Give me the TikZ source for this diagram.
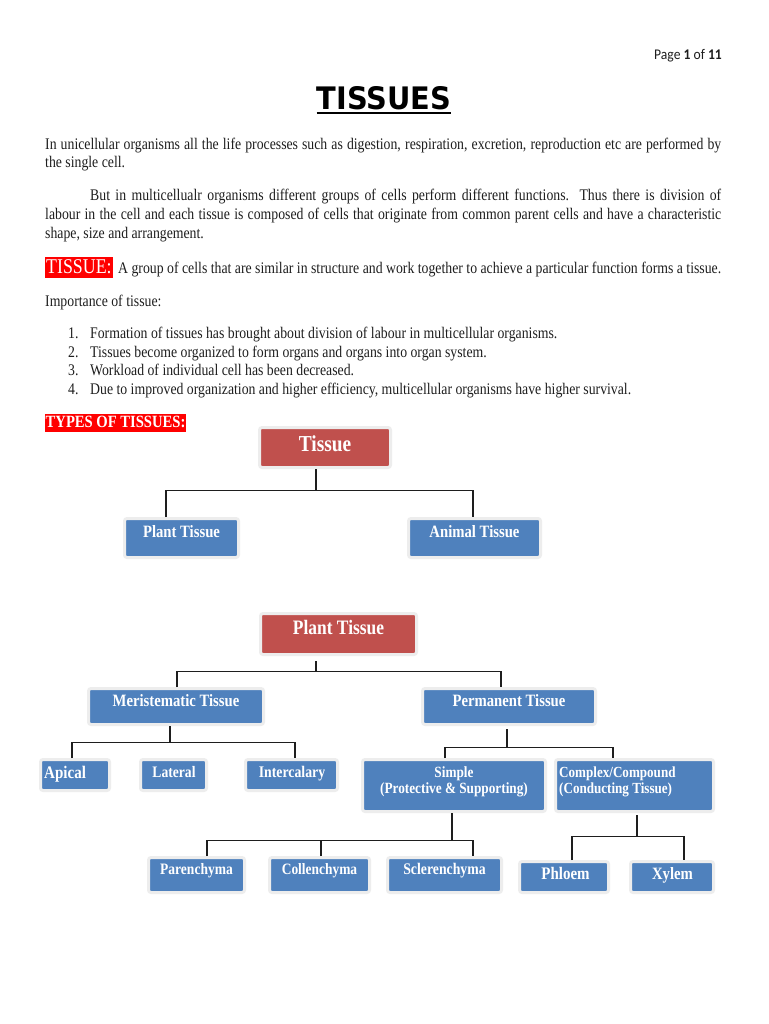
\documentclass[tikz,border=0pt]{standalone}
\usepackage{fontspec}
\setmainfont{Liberation Serif}[FakeStretch=0.85]
\newfontfamily\calibfont{Carlito}[FakeStretch=0.92]
\newfontfamily\titlefont{DejaVu Sans}[FakeStretch=0.93]
\definecolor{tred}{HTML}{C0504D}
\definecolor{tblue}{HTML}{4F81BD}
\definecolor{tedge}{HTML}{EDEDED}
\definecolor{hlred}{HTML}{FF0000}
\definecolor{ink}{HTML}{1E1E1E}
\begin{document}
\begin{tikzpicture}[x=1pt,y=-1pt,
  box/.style={draw=tedge, line width=3pt, rounded corners=2.5pt, inner sep=0pt},
  bbox/.style={box, fill=tblue},
  rbox/.style={box, fill=tred},
  btxt/.style={anchor=base, text=white, inner sep=0pt, font=\fontsize{#1}{#1}\selectfont\bfseries},
  btxt/.default=17,
  body/.style={anchor=base west, inner sep=0pt, text=ink, font=\fontsize{16.2}{18}\selectfont},
  conn/.style={draw=ink, line width=1.1pt}]
\useasboundingbox[fill=white] (0,0) rectangle (768,1024);

% header
\node[anchor=base east, inner sep=0pt, text=ink, font=\calibfont\fontsize{14.8}{15}\selectfont] (page) at (722,60) {Page \textbf{1} of \textbf{11}};
\node[anchor=base, inner sep=0pt, text=black, font=\titlefont\bfseries\fontsize{31}{31}\selectfont] (title) at (384,110) {TISSUES};
\draw[line width=2pt] ([yshift=-3pt]title.base west) -- ([yshift=-3pt]title.base east);

% paragraphs
\node[body] (p1a) at (45,150) {\makebox[676pt][s]{In unicellular organisms all the life processes such as digestion, respiration, excretion, reproduction etc are performed by}};
\node[body] (p1b) at (45,168) {the single cell.};
\node[body] (p2a) at (90,201) {\makebox[631pt][s]{But in multicellualr organisms different groups of cells perform different functions. Thus there is division of}};
\node[body] (p2b) at (45,220) {\makebox[676pt][s]{labour in the cell and each tissue is composed of cells that originate from common parent cells and have a characteristic}};
\node[body] (p2c) at (45,238) {shape, size and arrangement.};

\node[anchor=base west, fill=hlred, text=white, inner xsep=1pt, inner ysep=0pt, text height=16pt, text depth=5pt, font=\fontsize{21}{21}\selectfont] (deflab) at (45,273) {TISSUE:};
\node[body] (deftxt) at (118,273) {\makebox[603pt][s]{A group of cells that are similar in structure and work together to achieve a particular function forms a tissue.}};

\node[body] (imp) at (45,306) {Importance of tissue:};
\node[body] (n1) at (68,338) {1.};
\node[body] (l1) at (90,338) {Formation of tissues has brought about division of labour in multicellular organisms.};
\node[body] (n2) at (68,357) {2.};
\node[body] (l2) at (90,357) {Tissues become organized to form organs and organs into organ system.};
\node[body] (n3) at (68,375) {3.};
\node[body] (l3) at (90,375) {Workload of individual cell has been decreased.};
\node[body] (n4) at (68,394) {4.};
\node[body] (l4) at (90,394) {Due to improved organization and higher efficiency, multicellular organisms have higher survival.};

\node[anchor=base west, fill=hlred, text=white, inner xsep=0.5pt, inner ysep=0pt, text height=13.5pt, text depth=4pt, font=\fontsize{17.2}{17}\selectfont\bfseries] (types) at (45,427.5) {TYPES OF TISSUES:};

% diagram 1
\node[rbox, minimum width=131pt, minimum height=40pt] (tissue) at (325,447.5) {};
\node[btxt=22.8] (tissueT) at (325,451) {Tissue};
\node[bbox, minimum width=114pt, minimum height=39pt] (plant) at (181.5,538) {};
\node[btxt=17.3] (plantT) at (181.5,537.5) {Plant Tissue};
\node[bbox, minimum width=132pt, minimum height=39pt] (animal) at (474.5,538) {};
\node[btxt=17.3] (animalT) at (474.5,537.5) {Animal Tissue};

\draw[conn] ([xshift=-9pt]tissue.south) -- ++(0,21.5) coordinate (j1);
\draw[conn] ([xshift=-15.5pt]plant.north) |- (j1) -| ([xshift=-1.5pt]animal.north);

% diagram 2
\node[rbox, minimum width=156pt, minimum height=41pt] (ptis) at (338.5,634) {};
\node[btxt=20.5] (ptisT) at (338.5,634.5) {Plant Tissue};
\node[bbox, minimum width=175pt, minimum height=36pt] (merist) at (176,706.5) {};
\node[btxt=17.3] (meristT) at (176,706.5) {Meristematic Tissue};
\node[bbox, minimum width=173pt, minimum height=36pt] (perm) at (509,706.5) {};
\node[btxt=17.3] (permT) at (509,706.5) {Permanent Tissue};

\draw[conn, shorten <=5pt] ([xshift=-22.5pt]ptis.south) -- ++(0,15.5) coordinate (j2);
\draw[conn] ([xshift=1pt]merist.north) |- (j2) -| ([xshift=-8pt]perm.north);

\node[bbox, minimum width=69pt, minimum height=31pt] (apical) at (75,775) {};
\node[btxt=17.7, anchor=base west] (apicalT) at (44,778.5) {Apical};
\node[bbox, minimum width=66pt, minimum height=31pt] (lateral) at (173.5,775) {};
\node[btxt=16] (lateralT) at (174,777.5) {Lateral};
\node[bbox, minimum width=92pt, minimum height=31pt] (inter) at (291.5,775) {};
\node[btxt=16.2] (interT) at (292,777.5) {Intercalary};

\draw[conn] ([xshift=-6pt]merist.south) -- ++(0,16.5) coordinate (j3);
\draw[conn] ([xshift=-3pt]apical.north) |- (j3) -| ([xshift=3.5pt]inter.north);

\node[bbox, minimum width=183pt, minimum height=52pt] (simple) at (454,785.5) {};
\node[btxt=15.6] (simpleA) at (454,777) {Simple};
\node[btxt=15.6] (simpleB) at (454,793) {(Protective \& Supporting)};
\node[bbox, minimum width=158pt, minimum height=52pt] (complex) at (634.5,785.5) {};
\node[btxt=15.4, anchor=base west] (complexA) at (559,777) {Complex/Compound};
\node[btxt=15.4, anchor=base west] (complexB) at (559,793) {(Conducting Tissue)};

\draw[conn, shorten <=3pt] ([xshift=-2pt]perm.south) -- ++(0,21.5) coordinate (j4);
\draw[conn] ([xshift=-9pt]simple.north) |- (j4) -| ([xshift=-21.5pt]complex.north);

\node[bbox, minimum width=96pt, minimum height=35pt] (paren) at (196.5,875) {};
\node[btxt=15.9] (parenT) at (196.5,874.5) {Parenchyma};
\node[bbox, minimum width=100pt, minimum height=35pt] (collen) at (319.5,875) {};
\node[btxt=15.8] (collenT) at (319.5,874.5) {Collenchyma};
\node[bbox, minimum width=114pt, minimum height=35pt] (scler) at (444.5,875) {};
\node[btxt=16.2] (sclerT) at (444.5,874.5) {Sclerenchyma};

\draw[conn] ([xshift=-2pt]simple.south) -- ++(0,27.5) coordinate (j5);
\draw[conn] ([xshift=10.5pt]paren.north) |- (j5) -| ([xshift=28.5pt]scler.north);
\draw[conn] ([xshift=1.5pt]collen.north) -- ([xshift=1.5pt]collen.north |- j5);

\node[bbox, minimum width=89pt, minimum height=31pt] (phloem) at (564,877) {};
\node[btxt=17.6] (phloemT) at (565.5,879) {Phloem};
\node[bbox, minimum width=83pt, minimum height=31pt] (xylem) at (672,877) {};
\node[btxt=17.3] (xylemT) at (672.5,879) {Xylem};

\draw[conn, shorten <=2pt] ([xshift=2.5pt]complex.south) -- ++(0,23.5) coordinate (j6);
\draw[conn] ([xshift=8pt]phloem.north) |- (j6) -| ([xshift=12pt]xylem.north);
\end{tikzpicture}
\end{document}
